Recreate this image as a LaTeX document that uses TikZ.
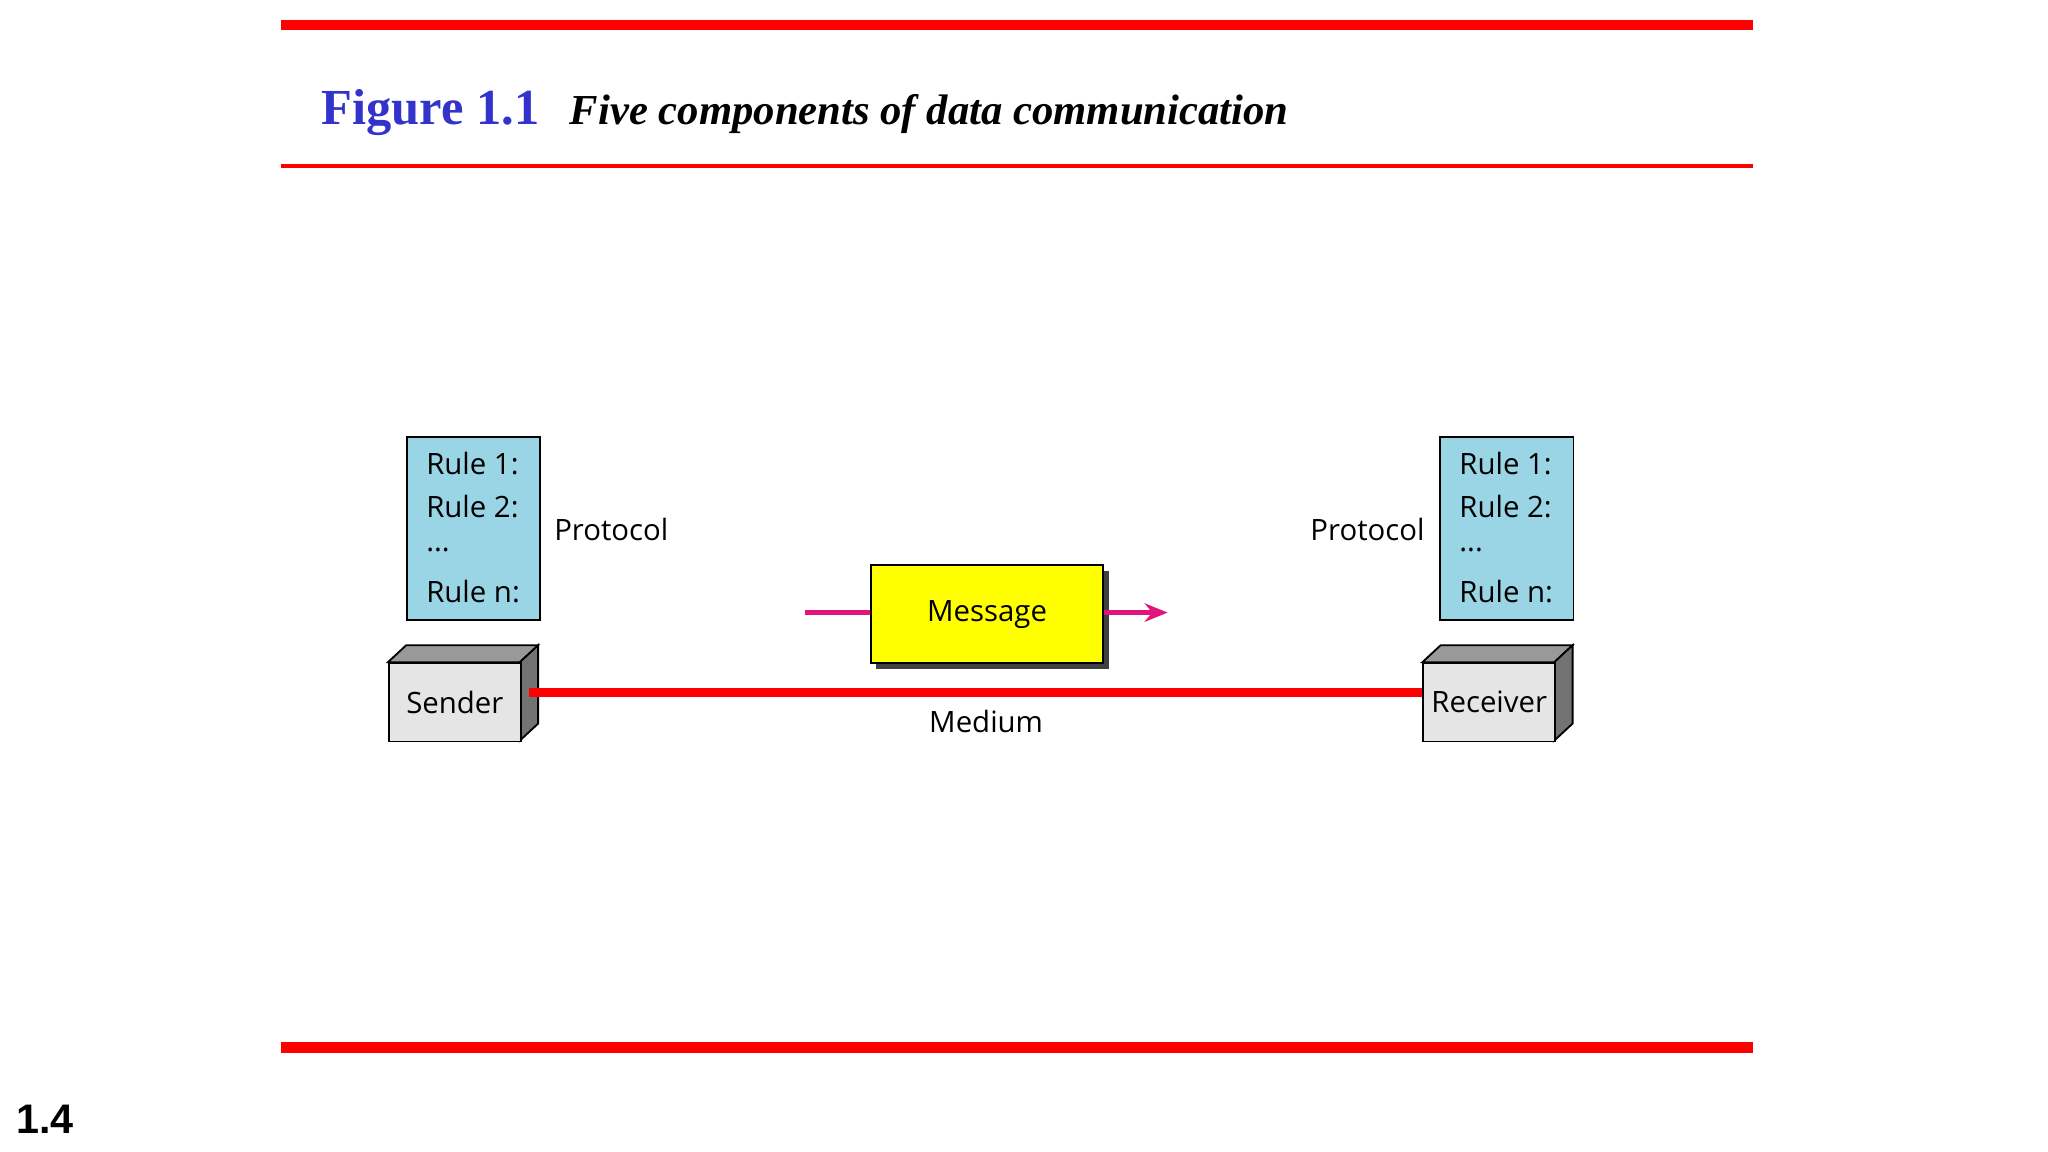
\documentclass[tikz,border=0pt]{standalone}
\usepackage{fontspec}
\setmainfont{Liberation Serif}
\newfontfamily\diag{Open Sans}
\newfontfamily\num{Liberation Sans}
\usetikzlibrary{arrows.meta}
\definecolor{rulered}{HTML}{FF0000}
\definecolor{protblue}{HTML}{99D5E5}
\definecolor{msgyel}{HTML}{FFFF00}
\definecolor{mag}{HTML}{E2137A}
\definecolor{titleblue}{HTML}{3333CC}
\begin{document}
\begin{tikzpicture}[x=0.02cm,y=-0.02cm,
  lbl/.style={font=\diag\fontsize{12.8}{15}\selectfont, inner sep=0pt},
  prot/.style={draw=black, line width=0.8pt, fill=protblue, minimum width=102*0.02cm, minimum height=140*0.02cm, anchor=north west},
  front/.style={draw=black, line width=0.8pt, fill=black!10, minimum width=101*0.02cm, minimum height=60*0.02cm, inner sep=1pt, anchor=north west, font=\diag\fontsize{12.8}{15}\selectfont},
  topface/.style={draw=black, line width=0.8pt, fill=black!40},
  sideface/.style={draw=black, line width=0.8pt, fill=black!55},
  msgline/.style={draw=mag, line width=2pt}]
\useasboundingbox (0,0) rectangle (1568,882);
% rules
\draw[rulered, line width=8*0.02cm] (215,19) -- (1342,19);
\draw[rulered, line width=3*0.02cm] (215,127) -- (1342,127);
\draw[rulered, line width=8*0.02cm] (215,802) -- (1342,802);
\node[anchor=base west, inner sep=0pt, text=titleblue, font=\bfseries\fontsize{22}{26}\selectfont] (fig) at (246,95) {Figure 1.1};
\node[anchor=base west, inner sep=0pt, font=\bfseries\itshape\fontsize{18.6}{22}\selectfont] (cap) at (436,95) {Five components of data communication};
\node[anchor=base west, inner sep=0pt, font=\num\bfseries\fontsize{18}{21}\selectfont] (pg) at (12,868) {1.4};
% protocol boxes
\node[prot] (pl) at (311,334) {};
\node[prot] (pr) at (1102,334) {};
\foreach \b/\x in {pl/326, pr/1117}{
  \node[lbl, anchor=west] (\b1) at (\x,355) {Rule 1:};
  \node[lbl, anchor=west] (\b2) at (\x,388) {Rule 2:};
  \node[lbl, anchor=west] (\b3) at (\x,421) {...};
  \node[lbl, anchor=west] (\b4) at (\x,453) {Rule n:};
}
\node[lbl, anchor=west] (protl) at (424,405) {Protocol};
\node[lbl, anchor=east] (protr) at (1091,405) {Protocol};
% sender
\draw[topface] (297,507) -- (311,494) -- (412,494) -- (398,507) -- cycle;
\draw[sideface] (398,507) -- (412,494) -- (412,554) -- (398,567) -- cycle;
\node[front] (snd) at (297,507) {Sender};
% receiver
\draw[topface] (1089,507) -- (1103,494) -- (1204,494) -- (1190,507) -- cycle;
\draw[sideface] (1190,507) -- (1204,494) -- (1204,554) -- (1190,567) -- cycle;
\node[front] (rcv) at (1089,507) {Receiver};
% medium
\coordinate (ms) at (405,530);
\draw[rulered, line width=7*0.02cm] (ms) -- (rcv.west |- ms);
\node[lbl] (med) at (755,552) {Medium};
% message
\fill[black!75] (671,437) rectangle (849,512);
\node[draw=black, line width=0.8pt, fill=msgyel, minimum width=178*0.02cm, minimum height=75*0.02cm, anchor=north west, font=\diag\fontsize{12.8}{15}\selectfont] (msg) at (666,432) {Message};
\coordinate (in) at (616,469);
\coordinate (out) at (894,469);
\draw[msgline] (in) -- (in -| msg.west);
\draw[msgline, -{Stealth[length=10pt,width=8pt]}] (msg.east |- out) -- (out);
\end{tikzpicture}
\end{document}
